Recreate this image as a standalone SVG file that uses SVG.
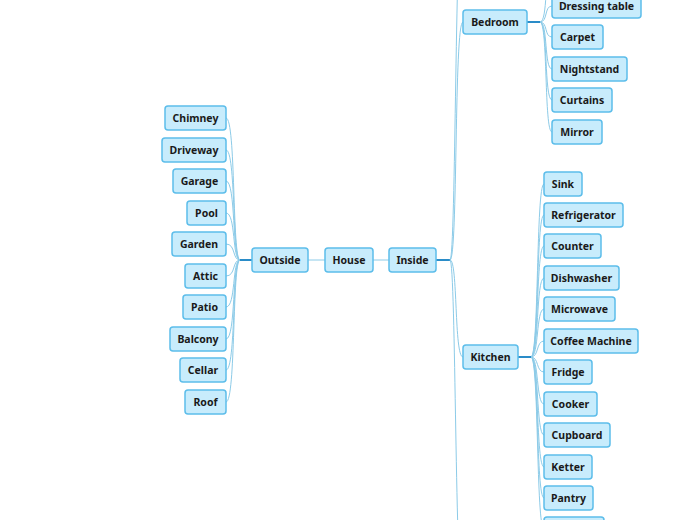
<svg xmlns="http://www.w3.org/2000/svg" width="697" height="520" viewBox="0 0 697 520">
<style>
.n rect{fill:#c8ecfc;stroke:#5cbdea;stroke-width:1.5}
.n text{font-family:"Noto Sans",sans-serif;font-weight:bold;font-size:10.5px;fill:#1a1a1a;text-anchor:middle}
.c path{fill:none;stroke:#8ccbe8;stroke-width:1}
.c .t{stroke:#2a8cc8;stroke-width:2}
</style>
<rect width="697" height="520" fill="#fff"/>
<g class="c">
<path class="t" d="M252 260H240"/>
<path d="M240 260C232 260 236 118 226 118"/><path d="M240 260C232 260 236 150 226 150"/><path d="M240 260C232 260 236 181 226 181"/><path d="M240 260C232 260 236 213 226 213"/><path d="M240 260C232 260 236 244 226 244"/><path d="M240 260C232 260 236 276 226 276"/><path d="M240 260C232 260 236 307 226 307"/><path d="M240 260C232 260 236 339 226 339"/><path d="M240 260C232 260 236 370 226 370"/><path d="M240 260C232 260 236 402 226 402"/>
<path d="M308 260H325M373 260H389"/>
<path class="t" d="M436 260H450"/>
<path d="M450 260C458 260 454 22 463 22"/><path d="M450 260C458 260 454 357 463 357"/><path d="M450 260C456 260 455 -100 463 -100"/><path d="M450 260C456 260 455 600 463 600"/>
<path class="t" d="M527 22H540"/>
<path d="M540 22C548 22 544 -30 552 -30"/><path d="M540 22C548 22 544 6 552 6"/><path d="M540 22C548 22 544 37 552 37"/><path d="M540 22C548 22 544 69 552 69"/><path d="M540 22C548 22 544 100 552 100"/><path d="M540 22C548 22 544 132 552 132"/>
<path class="t" d="M518 357H531"/>
<path d="M531 357C539 357 536 184 544 184"/><path d="M531 357C539 357 536 215 544 215"/><path d="M531 357C539 357 536 246 544 246"/><path d="M531 357C539 357 536 278 544 278"/><path d="M531 357C539 357 536 309 544 309"/><path d="M531 357C539 357 536 341 544 341"/><path d="M531 357C539 357 536 372 544 372"/><path d="M531 357C539 357 536 404 544 404"/><path d="M531 357C539 357 536 435 544 435"/><path d="M531 357C539 357 536 467 544 467"/><path d="M531 357C539 357 536 498 544 498"/><path d="M531 357C539 357 536 529 544 529"/>
</g>
<g id="chimney" class="n"><rect x="165" y="106" width="61" height="24" rx="3"/><text x="195.5" y="122">Chimney</text></g>
<g id="driveway" class="n"><rect x="162" y="138" width="64" height="24" rx="3"/><text x="194" y="154">Driveway</text></g>
<g id="garage" class="n"><rect x="173" y="169" width="53" height="24" rx="3"/><text x="199.5" y="185">Garage</text></g>
<g id="pool" class="n"><rect x="187" y="201" width="39" height="24" rx="3"/><text x="206.5" y="217">Pool</text></g>
<g id="garden" class="n"><rect x="172" y="232" width="54" height="24" rx="3"/><text x="199" y="248">Garden</text></g>
<g id="attic" class="n"><rect x="185" y="264" width="41" height="24" rx="3"/><text x="205.5" y="280">Attic</text></g>
<g id="patio" class="n"><rect x="183" y="295" width="43" height="24" rx="3"/><text x="204.5" y="311">Patio</text></g>
<g id="balcony" class="n"><rect x="170" y="327" width="56" height="24" rx="3"/><text x="198" y="343">Balcony</text></g>
<g id="cellar" class="n"><rect x="180" y="358" width="46" height="24" rx="3"/><text x="203" y="374">Cellar</text></g>
<g id="roof" class="n"><rect x="185" y="390" width="41" height="24" rx="3"/><text x="205.5" y="406">Roof</text></g>
<g id="outside" class="n"><rect x="252" y="248" width="56" height="24" rx="3"/><text x="280" y="264">Outside</text></g>
<g id="house" class="n"><rect x="325" y="248" width="48" height="24" rx="3"/><text x="349" y="264">House</text></g>
<g id="inside" class="n"><rect x="389" y="248" width="47" height="24" rx="3"/><text x="412.5" y="264">Inside</text></g>
<g id="bedroom" class="n"><rect x="463" y="10" width="64" height="24" rx="3"/><text x="495" y="26">Bedroom</text></g>
<g id="bed-top" class="n"><rect x="552" y="-42" width="60" height="24" rx="3"/></g>
<g id="dressing" class="n"><rect x="552" y="-6" width="89" height="24" rx="3"/><text x="596.5" y="10">Dressing table</text></g>
<g id="carpet" class="n"><rect x="552" y="25" width="51" height="24" rx="3"/><text x="577.5" y="41">Carpet</text></g>
<g id="nightstand" class="n"><rect x="552" y="57" width="75" height="24" rx="3"/><text x="589.5" y="73">Nightstand</text></g>
<g id="curtains" class="n"><rect x="552" y="88" width="60" height="24" rx="3"/><text x="582" y="104">Curtains</text></g>
<g id="mirror" class="n"><rect x="552" y="120" width="50" height="24" rx="3"/><text x="577" y="136">Mirror</text></g>
<g id="kitchen" class="n"><rect x="463" y="345" width="55" height="24" rx="3"/><text x="490.5" y="361">Kitchen</text></g>
<g id="sink" class="n"><rect x="544" y="172" width="38" height="24" rx="3"/><text x="563" y="188">Sink</text></g>
<g id="refrigerator" class="n"><rect x="544" y="203" width="79" height="24" rx="3"/><text x="583.5" y="219">Refrigerator</text></g>
<g id="counter" class="n"><rect x="544" y="234" width="57" height="24" rx="3"/><text x="572.5" y="250">Counter</text></g>
<g id="dishwasher" class="n"><rect x="544" y="266" width="75" height="24" rx="3"/><text x="581.5" y="282">Dishwasher</text></g>
<g id="microwave" class="n"><rect x="544" y="297" width="71" height="24" rx="3"/><text x="579.5" y="313">Microwave</text></g>
<g id="coffee" class="n"><rect x="544" y="329" width="94" height="24" rx="3"/><text x="591" y="345">Coffee Machine</text></g>
<g id="fridge" class="n"><rect x="544" y="360" width="48" height="24" rx="3"/><text x="568" y="376">Fridge</text></g>
<g id="cooker" class="n"><rect x="544" y="392" width="53" height="24" rx="3"/><text x="570.5" y="408">Cooker</text></g>
<g id="cupboard" class="n"><rect x="544" y="423" width="66" height="24" rx="3"/><text x="577" y="439">Cupboard</text></g>
<g id="ketter" class="n"><rect x="544" y="455" width="48" height="24" rx="3"/><text x="568" y="471">Ketter</text></g>
<g id="pantry" class="n"><rect x="544" y="486" width="49" height="24" rx="3"/><text x="568.5" y="502">Pantry</text></g>
<g id="kit-bottom" class="n"><rect x="544" y="517" width="60" height="24" rx="3"/></g>
</svg>
